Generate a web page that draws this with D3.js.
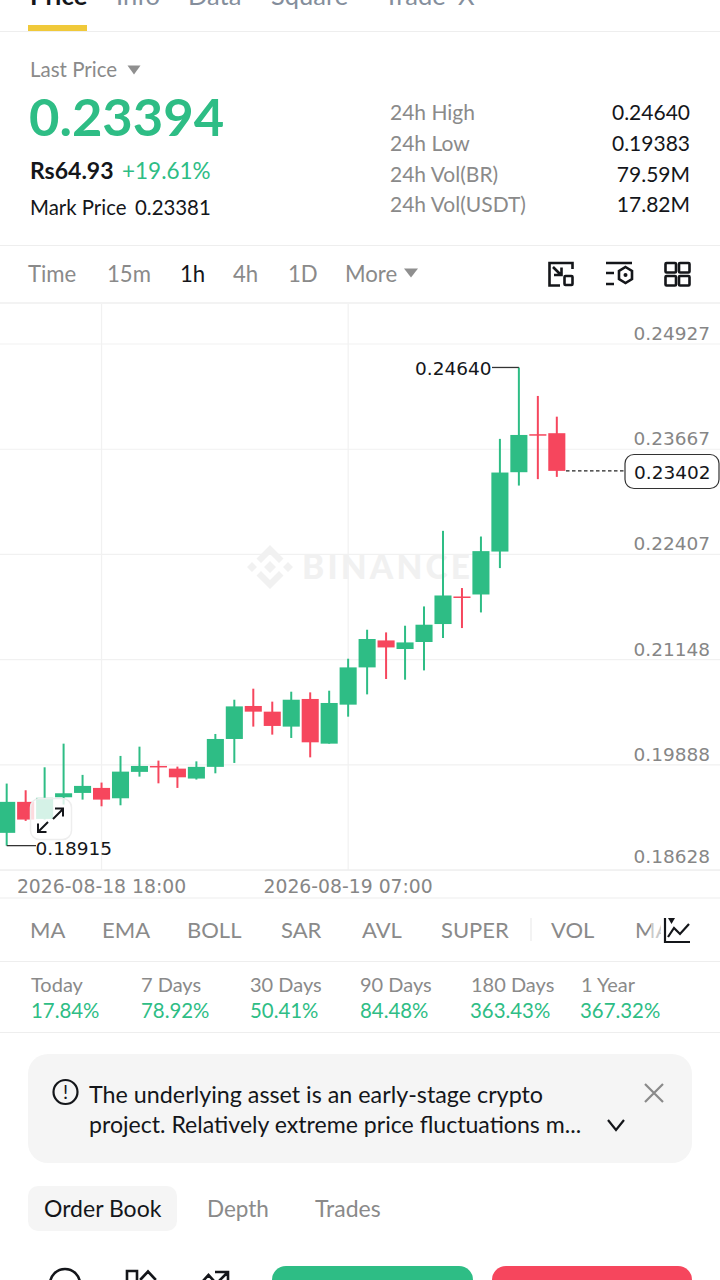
<!DOCTYPE html>
<html>
<head>
<meta charset="utf-8">
<script src="https://cdn.jsdelivr.net/npm/d3@7"></script>
<style>
  html, body { margin: 0; padding: 0; background: #fff; }
  svg { display: block; }
</style>
</head>
<body>
<div id="fig"></div>
<script>
// candle values, one entry per hour
const times = ['08-18 13:00','08-18 14:00','08-18 15:00','08-18 16:00','08-18 17:00','08-18 18:00','08-18 19:00','08-18 20:00','08-18 21:00','08-18 22:00','08-18 23:00','08-19 00:00','08-19 01:00','08-19 02:00','08-19 03:00','08-19 04:00','08-19 05:00','08-19 06:00','08-19 07:00','08-19 08:00','08-19 09:00','08-19 10:00','08-19 11:00','08-19 12:00','08-19 13:00','08-19 14:00','08-19 15:00','08-19 16:00','08-19 17:00','08-19 18:00'];
const opens  = [0.19068,0.19439,0.19235,0.19494,0.19546,0.19606,0.19482,0.19798,0.19869,0.19837,0.19718,0.19858,0.20192,0.20587,0.20519,0.20340,0.20671,0.20136,0.20603,0.21049,0.21372,0.21269,0.21353,0.21568,0.21898,0.21922,0.22436,0.23386,0.23841,0.23853];
const highs  = [0.19658,0.19578,0.19853,0.20136,0.19762,0.19670,0.19989,0.20100,0.19933,0.19861,0.19924,0.20252,0.20662,0.20794,0.20639,0.20758,0.20750,0.20770,0.21153,0.21500,0.21468,0.21548,0.21779,0.22684,0.21999,0.22616,0.23785,0.24640,0.24299,0.24051];
const lows   = [0.18915,0.19211,0.19227,0.19407,0.19466,0.19386,0.19398,0.19741,0.19661,0.19606,0.19706,0.19781,0.19905,0.20340,0.20244,0.20204,0.19972,0.20136,0.20459,0.20726,0.20910,0.20902,0.21013,0.21401,0.21520,0.21707,0.22238,0.23226,0.23303,0.23330];
const closes = [0.19439,0.19227,0.19487,0.19542,0.19630,0.19466,0.19801,0.19869,0.19853,0.19733,0.19858,0.20192,0.20582,0.20519,0.20348,0.20662,0.20152,0.20623,0.21049,0.21389,0.21288,0.21348,0.21560,0.21910,0.21891,0.22441,0.23382,0.23832,0.23832,0.23402];

const priceTicks = [0.24927,0.23667,0.22407,0.21148,0.19888,0.18628];
const timeTicks = ['08-18 18:00','08-19 07:00'];
const lastClose = 0.23402;
const highMark = 0.24640;
const lowMark = 0.18915;

// page text
const topTabs = ['Price','Info','Data','Square','Trade','X'];
const statNames = ['24h High','24h Low','24h Vol(BR)','24h Vol(USDT)'];
const statValues = ['0.24640','0.19383','79.59M','17.82M'];
const intervals = ['Time','15m','1h','4h','1D','More'];
const indicators = ['MA','EMA','BOLL','SAR','AVL','SUPER','VOL','MA'];
const periodNames = ['Today','7 Days','30 Days','90 Days','180 Days','1 Year'];
const periodValues = ['17.84%','78.92%','50.41%','84.48%','363.43%','367.32%'];

const green = '#2ebd85';
const red = '#f6465d';
const gridColor = '#f1f1f1';
const uiFont = 'Lato, "Open Sans", sans-serif';
const chartFont = '"DejaVu Sans", sans-serif';

let svg = d3.select('#fig').append('svg')
    .attr('width', 720)
    .attr('height', 1280)
    .style('background-color', '#fff');

function label(str, x, y, size, color, opts) {
    opts = opts || {};
    return svg.append('text')
        .attr('x', x)
        .attr('y', y)
        .attr('font-family', opts.family || uiFont)
        .attr('font-size', size)
        .attr('font-weight', opts.weight || 400)
        .attr('text-anchor', opts.anchor || 'start')
        .attr('fill', color)
        .text(str);
}

function hline(y, color) {
    svg.append('line')
        .attr('x1', 0).attr('x2', 720)
        .attr('y1', y).attr('y2', y)
        .attr('stroke', color || '#eeeeee')
        .attr('stroke-width', 1.2);
}

function triangle(cx, cy, w, h, color) {
    svg.append('path')
        .attr('d', `M${cx - w / 2},${cy - h / 2}L${cx + w / 2},${cy - h / 2}L${cx},${cy + h / 2}Z`)
        .attr('fill', color);
}

function icon(d, width, color) {
    svg.append('path')
        .attr('d', d)
        .attr('fill', 'none')
        .attr('stroke', color || '#14161a')
        .attr('stroke-width', width || 2.6);
}

// top tabs, cropped by the top of the screen
const tabX = [30, 116, 188, 271, 384, 458];
topTabs.forEach((t, i) => {
    label(t, tabX[i], 5, 25.5, i == 0 ? '#14161a' : '#848e9c', {weight: i == 0 ? 700 : 400});
});
svg.append('rect').attr('x', 28).attr('y', 25).attr('width', 59).attr('height', 6).attr('fill', '#f0c93a');
hline(31.5);

// price header
label('Last Price', 30, 77, 20.5, '#8a8a8a');
triangle(134, 70, 13, 9, '#8f8f8f');
label('0.23394', 29, 136, 52.5, green, {weight: 700});
label('Rs64.93', 30, 179, 23, '#14161a', {weight: 700});
label('+19.61%', 122, 179, 22.5, green);
label('Mark Price', 30, 215, 20.4, '#14161a');
label('0.23381', 135, 215, 20.4, '#14161a');

const statY = [120, 151, 182, 212];
statNames.forEach((t, i) => {
    label(t, 390, statY[i], 21, '#8a8a8a');
    label(statValues[i], 690, statY[i], 21, '#14161a', {anchor: 'end'});
});
hline(245.5);

// interval bar
const intervalX = [28, 107, 180, 233, 288, 345];
intervals.forEach((t, i) => {
    label(t, intervalX[i], 282, 22.2, t == '1h' ? '#14161a' : '#8a8a8a');
});
triangle(411, 273, 14, 9, '#8f8f8f');
icon('M572.5,269V263H549.5V285.5H560M553,267L561,275M561.5,267.5V275H554');
svg.append('rect').attr('x', 564.5).attr('y', 276).attr('width', 8).attr('height', 9).attr('rx', 1).attr('fill', 'none').attr('stroke', '#14161a').attr('stroke-width', 2.6);
icon('M606,263H632M606,273H614M606,284H614M625.5,267L632,271V279L625.5,283L619,279V271Z');
svg.append('circle').attr('cx', 625.5).attr('cy', 275).attr('r', 2).attr('fill', '#14161a');
[[665.5, 263], [679, 263], [665.5, 276], [679, 276]].forEach(p => {
    svg.append('rect').attr('x', p[0]).attr('y', p[1]).attr('width', 10.5).attr('height', 9.5).attr('rx', 1).attr('fill', 'none').attr('stroke', '#14161a').attr('stroke-width', 2.6);
});
svg.append('rect').attr('x', 0).attr('y', 302).attr('width', 720).attr('height', 2).attr('fill', '#f3f3f3');

// chart
let x = d3.scaleBand()
    .domain(times)
    .range([-2.8, 566.3])
    .paddingInner(0.1)
    .paddingOuter(0.05);

let y = d3.scaleLinear()
    .domain([priceTicks[5], priceTicks[0]])
    .range([869.6, 343.5]);

let xc = t => x(t) + x.bandwidth() / 2;

// vertical grid
svg.append('g')
    .selectAll('line')
    .data(timeTicks)
    .join('line')
    .attr('x1', d => xc(d)).attr('x2', d => xc(d))
    .attr('y1', 304).attr('y2', 870)
    .attr('stroke', gridColor)
    .attr('stroke-width', 1.2);

// watermark
let mark = svg.append('g').attr('fill', '#f1f1f1');
mark.append('path').attr('d', 'M270,545L283.5,558.5L279,563L270,554L261,563L256.5,558.5ZM270,589L283.5,575.5L279,571L270,580L261,571L256.5,575.5ZM247,567L252,562L257,567L252,572ZM283,567L288,562L293,567L288,572ZM270,561L276,567L270,573L264,567Z');
mark.append('text')
    .attr('x', 302).attr('y', 579)
    .attr('font-family', uiFont)
    .attr('font-size', 33.5)
    .attr('font-weight', 900)
    .attr('textLength', 168)
    .text('BINANCE');

// horizontal grid and price labels
let yAxis = svg.append('g')
    .call(d3.axisRight(y).tickValues(priceTicks).tickFormat(d3.format('.5f')).tickSize(720));
yAxis.select('.domain').remove();
yAxis.selectAll('.tick line').attr('stroke', gridColor).attr('stroke-width', 1.2);
yAxis.selectAll('.tick text')
    .attr('x', 710)
    .attr('dy', d => d == priceTicks[5] ? -7 : -4)
    .attr('text-anchor', 'end')
    .attr('font-family', chartFont)
    .attr('font-size', 18.5)
    .attr('fill', '#868686');

// wicks and bodies
let candles = svg.append('g')
    .selectAll('g')
    .data(times)
    .join('g');

candles.append('line')
    .attr('x1', d => xc(d)).attr('x2', d => xc(d))
    .attr('y1', (d, i) => y(highs[i]))
    .attr('y2', (d, i) => y(lows[i]))
    .attr('stroke', (d, i) => closes[i] >= opens[i] ? green : red)
    .attr('stroke-width', 2);

candles.append('rect')
    .attr('x', d => x(d))
    .attr('width', x.bandwidth())
    .attr('y', (d, i) => y(Math.max(opens[i], closes[i])))
    .attr('height', (d, i) => Math.max(1.5, Math.abs(y(opens[i]) - y(closes[i]))))
    .attr('fill', (d, i) => closes[i] >= opens[i] ? green : red);

// high and low markers
const highX = xc(times[highs.indexOf(highMark)]);
const lowX = xc(times[lows.indexOf(lowMark)]);
svg.append('path')
    .attr('d', `M${highX},${y(highMark)}H492`)
    .attr('fill', 'none').attr('stroke', '#333').attr('stroke-width', 1.3);
svg.append('path')
    .attr('d', `M${lowX},${y(lowMark)}H36`)
    .attr('fill', 'none').attr('stroke', '#333').attr('stroke-width', 1.3);
label(d3.format('.5f')(highMark), 415, 374.5, 18.5, '#14161a', {family: chartFont});
label(d3.format('.5f')(lowMark), 35.5, 854.5, 18.5, '#14161a', {family: chartFont});

// last price line
svg.append('line')
    .attr('x1', 566).attr('x2', 624)
    .attr('y1', y(lastClose)).attr('y2', y(lastClose))
    .attr('stroke', '#222').attr('stroke-width', 1.2).attr('stroke-dasharray', '3.5,2.5');
svg.append('rect')
    .attr('x', 625).attr('y', 454.5).attr('width', 94).attr('height', 34).attr('rx', 9)
    .attr('fill', '#fff').attr('stroke', '#333').attr('stroke-width', 1.2);
label(d3.format('.5f')(lastClose), 634, 479, 18.5, '#14161a', {family: chartFont});

// expand button over the chart
svg.append('rect')
    .attr('x', 30.5).attr('y', 798.5).attr('width', 41).attr('height', 41).attr('rx', 9)
    .attr('fill', 'rgba(255,255,255,0.8)').attr('stroke', '#eeeeee').attr('stroke-width', 1.5);
icon('M53,819L62.5,809.5M55,808.5H63V816.5M48,822L38.5,831.5M38,823.5V832H46.5', 2);

// time axis
let xAxis = svg.append('g')
    .attr('transform', 'translate(0,870)')
    .call(d3.axisBottom(x).tickValues(timeTicks).tickFormat(d => '2026-' + d).tickSize(0));
xAxis.select('.domain').remove();
xAxis.selectAll('.tick text')
    .attr('y', 23)
    .attr('dy', 0)
    .attr('font-family', chartFont)
    .attr('font-size', 18.8)
    .attr('fill', '#868686');
hline(870, '#eeeeee');
hline(898);

// indicator bar
const indicatorX = [30, 102, 187, 281, 362, 441, 551, 635];
indicators.forEach((t, i) => {
    label(t, indicatorX[i], 938, 22, '#8a8a8a');
});
svg.append('rect').attr('x', 661).attr('y', 915).attr('width', 34).attr('height', 30).attr('fill', '#fff');
svg.append('rect').attr('x', 651).attr('y', 915).attr('width', 10).attr('height', 30).attr('fill', 'rgba(255,255,255,0.55)');
svg.append('rect').attr('x', 530.5).attr('y', 918).attr('width', 1).attr('height', 23).attr('fill', '#e8e8e8');
icon('M665,918V942H690M668,937L674,928L680,934L689,924', 2.2);
triangle(671.5, 921, 7, 6, '#14161a');
hline(961.5);

// change by period
const periodX = [31, 141, 250, 360, 471, 581];
periodNames.forEach((t, i) => {
    label(t, periodX[i], 992, 20, '#8a8a8a');
    label(periodValues[i], i > 3 ? periodX[i] - 1 : periodX[i], 1018, 20.4, green);
});
hline(1032.5);

// risk notice
svg.append('rect').attr('x', 28).attr('y', 1054).attr('width', 664).attr('height', 109).attr('rx', 20).attr('fill', '#f5f5f5');
svg.append('circle').attr('cx', 65.5).attr('cy', 1092).attr('r', 12).attr('fill', 'none').attr('stroke', '#14161a').attr('stroke-width', 2.2);
label('!', 65.5, 1099, 19, '#14161a', {anchor: 'middle'});
label('The underlying asset is an early-stage crypto', 89, 1103, 23.3, '#14161a');
label('project. Relatively extreme price fluctuations m...', 89, 1133, 23.1, '#14161a');
icon('M645,1084L663,1102M663,1084L645,1102', 2.2, '#8a8a8a');
icon('M608,1120L616,1130L624,1120', 2.2);

// book tabs
svg.append('rect').attr('x', 28).attr('y', 1186).attr('width', 149).attr('height', 45).attr('rx', 10).attr('fill', '#f5f5f5');
label('Order Book', 44, 1217, 23, '#14161a');
label('Depth', 207, 1217, 22.5, '#8a8a8a');
label('Trades', 315, 1217, 23, '#8a8a8a');

// bottom action row, cropped by the window
svg.append('circle').attr('cx', 65).attr('cy', 1284).attr('r', 15).attr('fill', 'none').attr('stroke', '#14161a').attr('stroke-width', 2.6);
icon('M127,1285V1271H137V1285M141,1279L148,1271.5L155,1279L148,1286Z');
icon('M203,1281L208.5,1275L214,1281M215,1272H228V1280M228,1272L218,1282');
svg.append('path').attr('d', 'M272,1280A14,14 0 0 1 286,1266H459A14,14 0 0 1 473,1280V1282H272Z').attr('fill', green);
svg.append('path').attr('d', 'M492,1280A14,14 0 0 1 506,1266H678A14,14 0 0 1 692,1280V1282H492Z').attr('fill', red);
</script>
</body>
</html>
